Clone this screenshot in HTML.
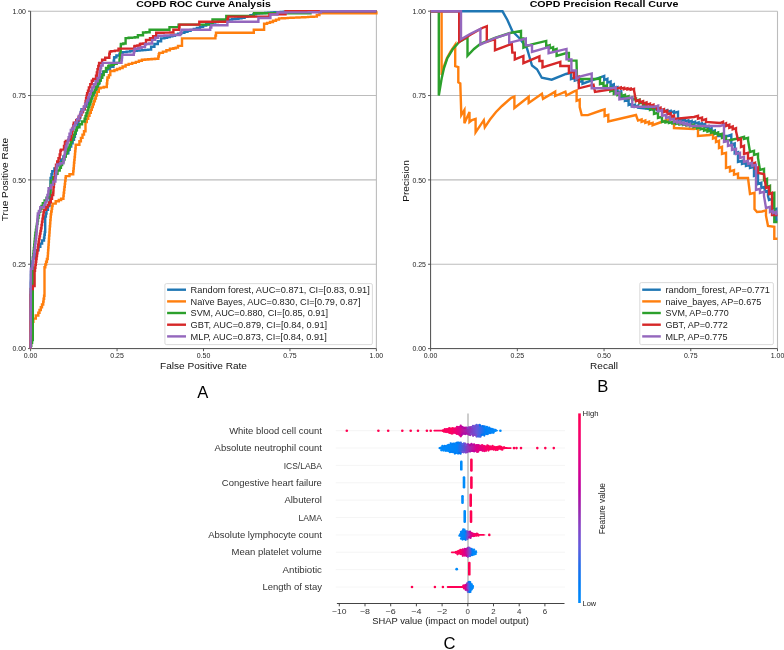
<!DOCTYPE html><html><head><meta charset="utf-8"><style>html,body{margin:0;padding:0;background:#fff;width:784px;height:650px;overflow:hidden}svg{display:block;will-change:transform}text{font-family:"Liberation Sans", sans-serif}</style></head><body>
<svg width="784" height="650" viewBox="0 0 784 650">
<rect width="784" height="650" fill="#fff"/>
<g stroke="#bcbcbc" stroke-width="1.1" fill="none"><line x1="30.60" y1="264.25" x2="376.40" y2="264.25"/><line x1="30.60" y1="179.90" x2="376.40" y2="179.90"/><line x1="30.60" y1="95.55" x2="376.40" y2="95.55"/><line x1="30.60" y1="11.20" x2="376.40" y2="11.20"/><line x1="376.40" y1="11.20" x2="376.40" y2="348.60"/></g>
<path d="M30.60 11.20 V348.60 H376.40" stroke="#4a4a4a" stroke-width="1.0" fill="none"/>
<path d="M28.00 348.60 H30.60 M30.60 348.60 V351.20 M28.00 264.25 H30.60 M117.05 348.60 V351.20 M28.00 179.90 H30.60 M203.50 348.60 V351.20 M28.00 95.55 H30.60 M289.95 348.60 V351.20 M28.00 11.20 H30.60 M376.40 348.60 V351.20" stroke="#4a4a4a" stroke-width="0.9" fill="none"/>
<text x="26.00" y="351.30" font-size="6.59" text-anchor="end" fill="#222" textLength="13.58" lengthAdjust="spacingAndGlyphs">0.00</text>
<text x="30.60" y="358.10" font-size="6.59" text-anchor="middle" fill="#222" textLength="13.58" lengthAdjust="spacingAndGlyphs">0.00</text>
<text x="26.00" y="266.95" font-size="6.59" text-anchor="end" fill="#222" textLength="13.58" lengthAdjust="spacingAndGlyphs">0.25</text>
<text x="117.05" y="358.10" font-size="6.59" text-anchor="middle" fill="#222" textLength="13.58" lengthAdjust="spacingAndGlyphs">0.25</text>
<text x="26.00" y="182.60" font-size="6.59" text-anchor="end" fill="#222" textLength="13.58" lengthAdjust="spacingAndGlyphs">0.50</text>
<text x="203.50" y="358.10" font-size="6.59" text-anchor="middle" fill="#222" textLength="13.58" lengthAdjust="spacingAndGlyphs">0.50</text>
<text x="26.00" y="98.25" font-size="6.59" text-anchor="end" fill="#222" textLength="13.58" lengthAdjust="spacingAndGlyphs">0.75</text>
<text x="289.95" y="358.10" font-size="6.59" text-anchor="middle" fill="#222" textLength="13.58" lengthAdjust="spacingAndGlyphs">0.75</text>
<text x="26.00" y="13.90" font-size="6.59" text-anchor="end" fill="#222" textLength="13.58" lengthAdjust="spacingAndGlyphs">1.00</text>
<text x="376.40" y="358.10" font-size="6.59" text-anchor="middle" fill="#222" textLength="13.58" lengthAdjust="spacingAndGlyphs">1.00</text>
<text x="203.50" y="7.30" font-size="9.46" text-anchor="middle" fill="#000" font-weight="bold" textLength="134.44" lengthAdjust="spacingAndGlyphs">COPD ROC Curve Analysis</text>
<text x="203.50" y="368.90" font-size="9.35" text-anchor="middle" fill="#111" textLength="86.90" lengthAdjust="spacingAndGlyphs">False Positive Rate</text>
<text x="8.30" y="179.60" font-size="9.35" text-anchor="middle" fill="#111" textLength="83.29" lengthAdjust="spacingAndGlyphs" transform="rotate(-90 8.3 179.6)">True Positive Rate</text>
<g fill="none" stroke-width="2.4" stroke-linejoin="miter" stroke-linecap="butt">
<polyline stroke="#1f77b4" points="30.6,348.6 30.6,292.0 30.6,289.2 30.7,289.2 30.7,286.3 30.7,286.3 30.7,283.5 30.8,283.5 30.8,280.7 30.9,280.7 30.9,277.8 30.9,277.8 30.9,275.0 31.0,275.0 31.0,271.6 31.5,271.6 31.5,268.2 31.9,268.2 31.9,264.9 32.4,264.9 32.4,261.5 32.9,261.5 32.9,257.8 34.8,257.8 34.8,254.0 36.6,254.0 36.6,250.3 38.5,250.3 38.5,246.7 40.3,246.7 40.3,243.6 42.1,243.6 42.1,240.5 44.0,240.5 44.0,237.7 44.4,237.7 44.4,234.8 44.8,234.8 44.8,232.0 45.2,232.0 45.2,219.6 45.2,216.6 45.9,216.6 45.9,213.5 46.5,213.5 46.5,209.8 48.0,209.8 48.0,206.0 49.5,206.0 49.5,203.2 49.7,203.2 49.7,200.5 49.9,200.5 49.9,197.8 50.1,197.8 50.1,195.0 50.3,195.0 50.3,191.7 50.4,191.7 50.4,188.3 50.5,188.3 50.5,184.9 50.5,184.9 50.5,181.6 50.6,181.6 50.6,177.9 51.5,177.9 51.5,174.2 52.3,174.2 52.3,171.3 54.4,171.3 54.4,168.5 56.4,168.5 56.4,165.6 58.5,165.6 58.5,162.5 61.0,162.5 61.0,159.4 63.4,159.4 63.4,156.4 65.8,156.4 65.8,153.3 68.3,153.3 68.3,149.9 69.7,149.9 69.7,146.6 71.2,146.6 71.2,143.2 72.6,143.2 72.6,139.8 74.0,139.8 74.0,136.7 74.9,136.7 74.9,133.7 75.8,133.7 75.8,130.6 76.6,130.6 76.6,127.5 77.5,127.5 77.5,123.8 78.5,123.8 78.5,120.2 79.5,120.2 79.5,117.5 80.2,117.5 80.2,114.7 80.8,114.7 80.8,112.0 81.5,112.0 81.5,109.2 82.2,109.2 84.6,109.2 84.6,106.7 86.4,106.7 86.4,104.2 88.3,104.2 88.3,101.2 90.2,101.2 90.2,98.1 92.0,98.1 92.0,95.0 93.8,95.0 93.8,92.0 95.7,92.0 95.7,89.0 97.0,89.0 97.0,86.0 98.2,86.0 98.2,83.0 99.5,83.0 99.5,80.1 100.7,80.1 100.7,77.1 102.0,77.1 102.0,74.1 103.2,74.1 103.2,71.7 106.6,71.7 106.6,69.3 110.0,69.3 110.0,66.9 113.4,66.9 113.4,63.9 113.7,63.9 113.7,60.8 114.1,60.8 114.1,57.8 114.4,57.8 114.4,57.2 116.4,57.2 116.4,55.5 119.5,55.5 119.5,53.7 122.6,53.7 122.6,52.1 126.6,52.1 126.6,51.6 130.2,51.6 130.2,51.1 133.8,51.1 133.8,50.9 136.7,50.9 136.7,50.6 139.6,50.6 139.6,50.4 142.4,50.4 142.4,50.1 145.3,50.1 145.3,49.9 148.2,49.9 148.2,49.6 151.1,49.6 151.1,46.8 154.4,46.8 154.4,44.0 157.8,44.0 157.8,41.2 161.1,41.2 161.1,38.4 164.4,38.4 164.4,37.8 167.1,37.8 167.1,37.1 169.7,37.1 169.7,36.4 172.3,36.4 172.3,35.8 175.0,35.8 175.0,34.8 178.1,34.8 178.1,33.8 181.2,33.8 181.2,32.9 184.4,32.9 184.4,31.9 187.5,31.9 187.5,30.9 190.6,30.9 190.6,29.9 193.8,29.9 193.8,29.0 196.9,29.0 196.9,28.0 200.0,28.0 200.0,26.8 203.1,26.8 203.1,25.5 206.2,25.5 206.2,24.2 209.3,24.2 209.3,23.0 212.4,23.0 212.4,22.5 215.2,22.5 215.2,22.0 217.9,22.0 217.9,21.5 220.7,21.5 220.7,21.0 223.5,21.0 223.5,20.5 226.2,20.5 226.2,20.0 229.0,20.0 229.0,19.6 232.1,19.6 232.1,19.1 235.2,19.1 235.2,18.7 238.4,18.7 238.4,18.2 241.5,18.2 241.5,17.8 244.6,17.8 244.6,16.9 247.5,16.9 247.5,16.1 250.4,16.1 250.4,15.2 253.2,15.2 253.2,14.4 256.1,14.4 256.1,13.5 259.0,13.5 259.0,13.3 262.1,13.3 262.1,13.1 265.2,13.1 265.2,12.9 268.3,12.9 268.3,12.7 271.4,12.7 271.4,12.5 274.5,12.5 274.5,12.3 277.6,12.3 277.6,12.1 280.7,12.1 280.7,11.9 283.8,11.9 283.8,11.7 286.9,11.7 286.9,11.5 290.0,11.5 290.0,11.5 293.0,11.5 293.0,11.5 296.0,11.5 296.0,11.5 298.9,11.5 298.9,11.5 301.9,11.5 301.9,11.4 304.9,11.4 304.9,11.4 307.9,11.4 307.9,11.4 310.9,11.4 310.9,11.4 313.8,11.4 313.8,11.4 316.8,11.4 316.8,11.4 319.8,11.4 319.8,11.4 322.8,11.4 322.8,11.4 325.8,11.4 325.8,11.4 328.7,11.4 328.7,11.4 331.7,11.4 331.7,11.3 334.7,11.3 334.7,11.3 337.7,11.3 337.7,11.3 340.6,11.3 340.6,11.3 343.6,11.3 343.6,11.3 346.6,11.3 346.6,11.3 349.6,11.3 349.6,11.3 352.6,11.3 352.6,11.3 355.5,11.3 355.5,11.3 358.5,11.3 358.5,11.3 361.5,11.3 361.5,11.2 364.5,11.2 364.5,11.2 367.5,11.2 367.5,11.2 370.4,11.2 370.4,11.2 373.4,11.2 373.4,11.2 376.4,11.2"/>
<polyline stroke="#ff7f0e" points="30.6,348.6 30.6,324.0 30.6,321.7 33.4,321.7 33.4,318.6 35.8,318.6 35.8,315.5 38.3,315.5 38.3,312.8 39.5,312.8 39.5,310.0 40.8,310.0 40.8,307.2 42.0,307.2 42.0,304.5 43.2,304.5 43.2,301.6 43.6,301.6 43.6,298.7 44.1,298.7 44.1,295.8 44.5,295.8 44.5,270.0 44.5,267.2 45.3,267.2 45.3,264.5 46.1,264.5 46.1,261.8 46.9,261.8 46.9,259.0 47.7,259.0 47.7,256.1 47.9,256.1 47.9,253.3 48.1,253.3 48.1,250.4 48.3,250.4 48.3,247.5 48.5,247.5 48.5,244.7 48.7,244.7 48.7,241.8 48.9,241.8 48.9,238.7 49.1,238.7 49.1,235.6 49.4,235.6 49.4,232.5 49.6,232.5 49.6,229.4 49.8,229.4 49.8,226.3 50.1,226.3 50.1,223.2 50.3,223.2 50.3,220.1 50.6,220.1 50.6,217.0 50.8,217.0 50.8,214.2 51.2,214.2 51.2,211.5 51.7,211.5 51.7,208.8 52.1,208.8 52.1,206.0 52.6,206.0 52.6,203.6 55.7,203.6 55.7,201.2 58.8,201.2 58.8,200.0 61.1,200.0 61.1,198.8 63.4,198.8 63.4,195.8 63.7,195.8 63.7,192.8 64.1,192.8 64.1,189.8 64.4,189.8 64.4,186.9 64.8,186.9 64.8,183.9 65.1,183.9 65.1,180.9 65.5,180.9 65.5,177.9 65.8,177.9 65.8,176.1 69.5,176.1 69.5,174.2 73.2,174.2 73.2,171.3 73.5,171.3 73.5,168.5 73.8,168.5 73.8,165.6 74.0,165.6 74.0,162.7 74.3,162.7 74.3,159.9 74.6,159.9 74.6,157.0 74.9,157.0 74.9,154.1 75.1,154.1 75.1,151.3 75.4,151.3 75.4,148.4 75.7,148.4 75.7,144.7 79.4,144.7 79.4,141.3 80.9,141.3 80.9,137.9 82.5,137.9 82.5,134.6 84.0,134.6 84.0,131.2 85.5,131.2 85.5,125.0 85.5,122.0 86.8,122.0 86.8,118.9 88.2,118.9 88.2,115.8 89.5,115.8 89.5,112.8 90.8,112.8 90.8,109.9 91.8,109.9 91.8,107.1 92.8,107.1 92.8,104.2 93.8,104.2 93.8,101.3 94.9,101.3 94.9,98.5 95.9,98.5 95.9,95.6 96.9,95.6 96.9,91.9 98.8,91.9 98.8,88.2 100.6,88.2 100.6,87.6 103.7,87.6 103.7,87.0 106.8,87.0 106.8,83.5 107.2,83.5 107.2,80.0 107.5,80.0 107.5,77.5 108.9,77.5 108.9,75.1 110.3,75.1 110.3,71.0 114.4,71.0 114.4,70.0 117.1,70.0 117.1,69.0 119.9,69.0 119.9,68.0 122.6,68.0 122.6,66.5 125.6,66.5 125.6,64.9 128.7,64.9 128.7,63.9 132.2,63.9 132.2,62.9 135.8,62.9 135.8,61.9 138.9,61.9 138.9,60.8 141.9,60.8 141.9,59.8 145.0,59.8 145.0,59.5 148.3,59.5 148.3,59.3 151.7,59.3 151.7,59.0 155.0,59.0 155.0,58.8 158.3,58.8 158.3,56.5 158.8,56.5 158.8,54.2 159.3,54.2 159.3,52.9 162.9,52.9 162.9,51.6 166.4,51.6 166.4,50.2 169.9,50.2 169.9,48.8 173.4,48.8 173.4,48.2 175.7,48.2 175.7,47.6 178.0,47.6 178.0,45.9 182.0,45.9 182.0,38.4 215.4,38.4 215.4,35.6 216.0,35.6 216.0,32.7 219.4,32.7 253.8,32.7 253.8,29.8 255.5,29.8 264.1,29.8 264.1,24.6 264.1,23.7 267.1,23.7 267.1,22.9 270.0,22.9 270.0,22.0 273.0,22.0 273.0,20.8 276.0,20.8 276.0,19.6 279.0,19.6 279.0,18.4 282.0,18.4 282.0,18.2 284.9,18.2 284.9,18.1 287.8,18.1 287.8,17.9 290.7,17.9 290.7,17.8 293.6,17.8 293.6,17.6 296.5,17.6 296.5,17.5 299.4,17.5 299.4,17.4 302.3,17.4 302.3,17.2 305.2,17.2 305.2,17.1 308.1,17.1 308.1,16.9 311.0,16.9 311.0,16.8 313.9,16.8 313.9,16.6 316.8,16.6 316.8,15.0 319.4,15.0 319.4,13.4 322.0,13.4 376.4,13.4 376.4,11.2"/>
<polyline stroke="#2ca02c" points="30.6,348.6 30.6,345.7 31.3,345.7 31.3,342.9 32.1,342.9 32.1,340.0 32.8,340.0 32.8,299.5 32.8,296.5 32.8,296.5 32.8,293.5 32.8,293.5 32.8,290.4 32.8,290.4 32.8,287.4 32.9,287.4 32.9,284.4 32.9,284.4 32.9,281.4 32.9,281.4 32.9,278.3 32.9,278.3 32.9,275.3 32.9,275.3 32.9,272.3 32.9,272.3 32.9,269.3 33.0,269.3 33.0,266.2 33.0,266.2 33.0,263.2 33.0,263.2 33.0,260.2 33.0,260.2 33.0,257.1 33.3,257.1 33.3,254.0 33.6,254.0 33.6,251.0 33.9,251.0 33.9,247.9 34.2,247.9 34.2,244.8 34.5,244.8 34.5,241.8 34.8,241.8 34.8,238.7 35.1,238.7 35.1,235.6 35.4,235.6 35.4,232.6 35.9,232.6 35.9,229.6 36.4,229.6 36.4,226.6 36.9,226.6 36.9,223.7 37.5,223.7 37.5,220.7 38.0,220.7 38.0,217.7 38.5,217.7 38.5,214.7 39.0,214.7 39.0,211.8 40.3,211.8 40.3,208.9 41.5,208.9 41.5,206.0 42.8,206.0 42.8,203.2 44.6,203.2 44.6,200.5 46.5,200.5 46.5,197.8 48.4,197.8 48.4,195.0 50.2,195.0 50.2,192.2 50.4,192.2 50.4,189.5 50.6,189.5 50.6,186.8 50.8,186.8 50.8,184.0 51.0,184.0 51.0,180.6 53.2,180.6 53.2,177.2 55.4,177.2 55.4,173.9 57.5,173.9 57.5,170.5 59.7,170.5 59.7,167.8 60.9,167.8 60.9,165.0 62.1,165.0 62.1,162.2 63.4,162.2 63.4,159.5 64.6,159.5 64.6,156.5 65.8,156.5 65.8,153.6 67.1,153.6 67.1,150.6 68.3,150.6 68.3,147.7 69.6,147.7 69.6,144.7 70.8,144.7 70.8,141.5 72.1,141.5 72.1,138.2 73.5,138.2 73.5,135.0 74.8,135.0 74.8,132.5 75.8,132.5 75.8,130.0 76.9,130.0 76.9,127.2 79.5,127.2 79.5,124.3 82.0,124.3 82.0,121.5 84.6,121.5 84.6,118.7 85.5,118.7 85.5,116.0 86.4,116.0 86.4,113.2 87.4,113.2 87.4,110.4 88.3,110.4 88.3,107.4 89.3,107.4 89.3,104.5 90.3,104.5 90.3,101.5 91.2,101.5 91.2,98.6 92.2,98.6 92.2,95.6 93.2,95.6 93.2,92.6 94.7,92.6 94.7,89.7 96.2,89.7 96.2,86.7 97.6,86.7 97.6,83.8 99.1,83.8 99.1,80.8 100.6,80.8 100.6,77.9 102.2,77.9 102.2,75.1 103.7,75.1 103.7,71.5 106.0,71.5 106.0,68.0 108.3,68.0 108.3,65.9 109.3,65.9 109.3,65.4 111.6,65.4 111.6,64.9 113.9,64.9 113.9,63.9 116.7,63.9 116.7,62.9 119.5,62.9 119.5,59.8 119.8,59.8 119.8,56.8 120.2,56.8 120.2,53.7 120.5,53.7 120.5,50.6 120.7,50.6 120.7,47.6 120.8,47.6 120.8,44.5 121.0,44.5 121.0,44.0 123.3,44.0 123.3,43.5 125.6,43.5 125.6,38.4 125.6,38.1 128.7,38.1 128.7,37.8 131.8,37.8 131.8,37.6 134.8,37.6 134.8,37.3 137.9,37.3 137.9,35.3 143.0,35.3 143.0,32.8 143.0,32.5 146.3,32.5 146.3,32.2 149.6,32.2 149.6,29.7 150.1,29.7 169.5,29.7 169.5,27.1 178.6,27.1 178.6,24.6 179.2,24.6 212.5,24.6 212.5,19.5 226.3,19.5 226.3,16.0 226.8,16.0 254.0,16.0 254.0,13.3 255.0,13.3 310.5,13.3 310.5,11.2 376.4,11.2"/>
<polyline stroke="#d62728" points="30.6,348.6 30.6,298.0 30.6,295.0 30.8,295.0 30.8,292.0 30.9,292.0 30.9,289.0 32.8,289.0 32.8,286.0 34.6,286.0 34.6,273.7 34.6,270.8 35.0,270.8 35.0,267.8 35.4,267.8 35.4,264.9 35.8,264.9 35.8,261.9 36.2,261.9 36.2,259.0 36.6,259.0 36.6,256.1 37.0,256.1 37.0,253.3 37.4,253.3 37.4,250.4 37.8,250.4 37.8,247.5 38.2,247.5 38.2,244.7 38.6,244.7 38.6,241.8 39.0,241.8 39.0,239.1 39.5,239.1 39.5,236.4 40.0,236.4 40.0,233.6 40.5,233.6 40.5,230.9 41.0,230.9 41.0,228.2 41.5,228.2 41.5,225.0 42.0,225.0 42.0,221.8 42.5,221.8 42.5,218.6 43.0,218.6 43.0,215.4 43.5,215.4 43.5,212.2 44.0,212.2 44.0,209.8 45.9,209.8 45.9,207.3 47.7,207.3 47.7,204.9 49.2,204.9 49.2,202.4 50.8,202.4 50.8,198.7 52.0,198.7 52.0,195.0 53.2,195.0 53.2,192.6 53.4,192.6 53.4,190.2 53.5,190.2 53.5,187.0 53.9,187.0 53.9,183.9 54.2,183.9 54.2,180.7 54.6,180.7 54.6,177.5 54.9,177.5 54.9,174.3 55.3,174.3 55.3,171.2 55.6,171.2 55.6,168.0 56.0,168.0 56.0,164.7 57.2,164.7 57.2,161.5 58.5,161.5 58.5,158.2 59.7,158.2 59.7,154.5 60.4,154.5 60.4,150.8 61.0,150.8 61.0,149.6 64.0,149.6 64.0,145.9 64.9,145.9 64.9,142.2 65.8,142.2 65.8,141.0 68.3,141.0 68.3,139.8 70.8,139.8 70.8,136.8 71.4,136.8 71.4,133.9 72.0,133.9 72.0,130.9 72.6,130.9 72.6,128.0 73.2,128.0 73.2,125.0 73.8,125.0 73.8,122.6 76.2,122.6 76.2,120.2 78.5,120.2 78.5,117.5 80.0,117.5 80.0,114.7 81.5,114.7 81.5,112.0 83.1,112.0 83.1,109.2 84.6,109.2 84.6,106.5 85.1,106.5 85.1,103.8 85.6,103.8 85.6,101.0 86.1,101.0 86.1,98.3 86.6,98.3 86.6,95.6 87.1,95.6 87.1,93.2 88.0,93.2 88.0,90.7 88.9,90.7 88.9,87.4 90.3,87.4 90.3,84.1 91.8,84.1 91.8,80.8 93.2,80.8 93.2,79.0 96.0,79.0 96.0,75.8 96.8,75.8 96.8,72.5 97.5,72.5 97.5,69.2 98.3,69.2 98.3,66.0 99.1,66.0 99.1,62.9 102.1,62.9 102.1,59.8 105.2,59.8 105.2,57.8 109.3,57.8 109.3,53.7 109.8,53.7 109.8,51.6 111.3,51.6 111.3,51.1 114.9,51.1 114.9,50.6 118.5,50.6 118.5,48.6 119.0,48.6 134.3,48.6 134.3,46.5 134.8,46.5 134.8,46.0 137.4,46.0 137.4,45.5 139.9,45.5 139.9,44.0 140.9,44.0 140.9,43.8 143.4,43.8 143.4,43.5 146.0,43.5 146.0,40.0 150.0,40.0 150.0,38.1 153.1,38.1 153.1,36.3 156.2,36.3 156.2,32.8 160.3,32.8 160.3,32.7 163.6,32.7 163.6,32.6 166.9,32.6 166.9,32.6 170.1,32.6 170.1,32.5 173.4,32.5 173.4,29.8 179.2,29.8 179.2,27.2 179.5,27.2 179.5,24.6 179.8,24.6 199.3,24.6 199.3,21.8 199.9,21.8 227.4,21.8 227.4,19.2 228.0,19.2 228.0,16.6 228.6,16.6 269.5,16.6 269.5,14.3 285.5,14.3 285.5,11.2 376.4,11.2"/>
<polyline stroke="#9467bd" points="30.6,348.6 30.6,345.6 30.6,345.6 30.6,342.6 30.6,342.6 30.6,339.5 30.6,339.5 30.6,336.5 30.6,336.5 30.6,333.5 30.7,333.5 30.7,330.5 30.7,330.5 30.7,327.4 30.7,327.4 30.7,324.4 30.7,324.4 30.7,321.4 30.7,321.4 30.7,318.4 30.7,318.4 30.7,315.3 30.7,315.3 30.7,312.3 30.7,312.3 30.7,309.3 30.8,309.3 30.8,306.3 30.8,306.3 30.8,303.3 30.8,303.3 30.8,300.2 30.8,300.2 30.8,297.2 30.8,297.2 30.8,294.2 30.8,294.2 30.8,291.2 30.8,291.2 30.8,288.1 30.8,288.1 30.8,285.1 30.8,285.1 30.8,282.1 30.9,282.1 30.9,279.1 30.9,279.1 30.9,276.0 30.9,276.0 30.9,273.0 30.9,273.0 30.9,270.0 30.9,270.0 30.9,268.8 32.3,268.8 32.3,265.4 32.8,265.4 32.8,262.1 33.2,262.1 33.2,258.7 33.7,258.7 33.7,255.3 34.2,255.3 34.2,252.3 34.5,252.3 34.5,249.3 34.9,249.3 34.9,246.3 35.2,246.3 35.2,243.4 35.6,243.4 35.6,240.4 35.9,240.4 35.9,237.4 36.3,237.4 36.3,234.4 36.6,234.4 36.6,231.3 36.8,231.3 36.8,228.3 37.0,228.3 37.0,225.2 37.2,225.2 37.2,222.1 37.4,222.1 37.4,219.1 37.6,219.1 37.6,216.0 37.8,216.0 37.8,213.5 39.0,213.5 39.0,211.0 40.3,211.0 40.3,207.3 44.0,207.3 44.0,204.9 45.2,204.9 45.2,202.4 46.5,202.4 46.5,198.7 47.4,198.7 47.4,195.0 48.3,195.0 48.3,191.5 48.6,191.5 48.6,188.2 50.9,188.2 50.9,184.9 53.1,184.9 53.1,181.6 55.4,181.6 55.4,178.4 55.8,178.4 55.8,175.2 56.1,175.2 56.1,172.0 56.5,172.0 56.5,168.8 56.8,168.8 56.8,165.6 57.2,165.6 57.2,164.4 60.3,164.4 60.3,163.2 63.4,163.2 63.4,160.5 63.9,160.5 63.9,157.8 64.4,157.8 64.4,155.0 64.8,155.0 64.8,152.3 65.3,152.3 65.3,149.6 65.8,149.6 65.8,146.5 66.7,146.5 66.7,143.4 67.7,143.4 67.7,140.4 68.6,140.4 68.6,137.3 69.5,137.3 69.5,133.7 70.8,133.7 70.8,130.0 72.0,130.0 72.0,128.8 73.5,128.8 73.5,125.6 75.2,125.6 75.2,122.4 77.0,122.4 77.0,119.2 78.7,119.2 78.7,116.0 80.5,116.0 80.5,112.8 82.2,112.8 82.2,109.7 83.7,109.7 83.7,106.7 85.2,106.7 85.2,103.6 86.8,103.6 86.8,100.5 88.3,100.5 88.3,97.2 89.5,97.2 89.5,94.0 90.8,94.0 90.8,90.7 92.0,90.7 92.0,87.5 93.8,87.5 93.8,84.3 95.7,84.3 95.7,81.2 97.6,81.2 97.6,78.0 99.4,78.0 99.4,74.7 100.0,74.7 100.0,71.3 100.5,71.3 100.5,68.0 101.1,68.0 101.1,65.5 102.7,65.5 102.7,62.9 104.2,62.9 121.5,62.9 121.5,60.2 121.9,60.2 121.9,57.4 122.2,57.4 122.2,54.7 122.6,54.7 133.8,54.7 133.8,52.2 134.3,52.2 134.3,49.6 134.8,49.6 134.8,48.7 138.2,48.7 138.2,47.9 141.6,47.9 141.6,47.0 145.0,47.0 145.0,44.5 146.0,44.5 146.0,44.0 149.1,44.0 149.1,43.5 152.1,43.5 152.1,39.9 155.2,39.9 155.2,37.8 158.2,37.8 158.2,35.8 161.3,35.8 161.3,35.7 164.5,35.7 164.5,35.5 167.6,35.5 167.6,35.4 170.8,35.4 170.8,35.3 174.0,35.3 174.0,35.1 177.1,35.1 177.1,35.0 180.3,35.0 180.3,32.7 181.5,32.7 181.5,29.8 184.4,29.8 210.2,29.8 210.2,27.5 211.3,27.5 211.3,25.2 212.5,25.2 227.4,25.2 227.4,21.8 228.0,21.8 258.4,21.8 258.4,18.0 259.6,18.0 270.4,18.0 270.4,14.5 277.5,14.5 277.5,12.5 277.5,12.5 280.6,12.5 280.6,12.5 283.7,12.5 283.7,12.5 286.8,12.5 286.8,12.4 289.9,12.4 289.9,12.4 293.0,12.4 293.0,12.4 296.1,12.4 296.1,12.4 299.2,12.4 299.2,12.4 302.4,12.4 302.4,12.4 305.5,12.4 305.5,12.4 308.6,12.4 308.6,12.3 311.7,12.3 311.7,12.3 314.8,12.3 314.8,12.3 317.9,12.3 317.9,12.3 321.0,12.3 321.0,11.2 376.4,11.2"/>
</g>
<rect x="164.90" y="283.60" width="207.50" height="61.00" rx="1.5" fill="#fff" fill-opacity="0.8" stroke="#d6d6d6" stroke-width="0.9"/>
<line x1="167.10" y1="289.70" x2="186.00" y2="289.70" stroke="#1f77b4" stroke-width="2.4"/>
<text x="190.60" y="292.80" font-size="8.75" text-anchor="start" fill="#222" textLength="179.22" lengthAdjust="spacingAndGlyphs">Random forest, AUC=0.871, CI=[0.83, 0.91]</text>
<line x1="167.10" y1="301.40" x2="186.00" y2="301.40" stroke="#ff7f0e" stroke-width="2.4"/>
<text x="190.60" y="304.50" font-size="8.75" text-anchor="start" fill="#222" textLength="169.91" lengthAdjust="spacingAndGlyphs">Naïve Bayes, AUC=0.830, CI=[0.79, 0.87]</text>
<line x1="167.10" y1="313.00" x2="186.00" y2="313.00" stroke="#2ca02c" stroke-width="2.4"/>
<text x="190.60" y="316.10" font-size="8.75" text-anchor="start" fill="#222" textLength="137.44" lengthAdjust="spacingAndGlyphs">SVM, AUC=0.880, CI=[0.85, 0.91]</text>
<line x1="167.10" y1="324.70" x2="186.00" y2="324.70" stroke="#d62728" stroke-width="2.4"/>
<text x="190.60" y="327.80" font-size="8.75" text-anchor="start" fill="#222" textLength="136.55" lengthAdjust="spacingAndGlyphs">GBT, AUC=0.879, CI=[0.84, 0.91]</text>
<line x1="167.10" y1="336.40" x2="186.00" y2="336.40" stroke="#9467bd" stroke-width="2.4"/>
<text x="190.60" y="339.50" font-size="8.75" text-anchor="start" fill="#222" textLength="136.16" lengthAdjust="spacingAndGlyphs">MLP, AUC=0.873, CI=[0.84, 0.91]</text>
<g stroke="#bcbcbc" stroke-width="1.1" fill="none"><line x1="430.60" y1="264.25" x2="777.50" y2="264.25"/><line x1="430.60" y1="179.90" x2="777.50" y2="179.90"/><line x1="430.60" y1="95.55" x2="777.50" y2="95.55"/><line x1="430.60" y1="11.20" x2="777.50" y2="11.20"/><line x1="777.50" y1="11.20" x2="777.50" y2="348.60"/></g>
<path d="M430.60 11.20 V348.60 H777.50" stroke="#4a4a4a" stroke-width="1.0" fill="none"/>
<path d="M428.00 348.60 H430.60 M430.60 348.60 V351.20 M428.00 264.25 H430.60 M517.33 348.60 V351.20 M428.00 179.90 H430.60 M604.05 348.60 V351.20 M428.00 95.55 H430.60 M690.77 348.60 V351.20 M428.00 11.20 H430.60 M777.50 348.60 V351.20" stroke="#4a4a4a" stroke-width="0.9" fill="none"/>
<text x="426.00" y="351.30" font-size="6.59" text-anchor="end" fill="#222" textLength="13.58" lengthAdjust="spacingAndGlyphs">0.00</text>
<text x="430.60" y="358.10" font-size="6.59" text-anchor="middle" fill="#222" textLength="13.58" lengthAdjust="spacingAndGlyphs">0.00</text>
<text x="426.00" y="266.95" font-size="6.59" text-anchor="end" fill="#222" textLength="13.58" lengthAdjust="spacingAndGlyphs">0.25</text>
<text x="517.33" y="358.10" font-size="6.59" text-anchor="middle" fill="#222" textLength="13.58" lengthAdjust="spacingAndGlyphs">0.25</text>
<text x="426.00" y="182.60" font-size="6.59" text-anchor="end" fill="#222" textLength="13.58" lengthAdjust="spacingAndGlyphs">0.50</text>
<text x="604.05" y="358.10" font-size="6.59" text-anchor="middle" fill="#222" textLength="13.58" lengthAdjust="spacingAndGlyphs">0.50</text>
<text x="426.00" y="98.25" font-size="6.59" text-anchor="end" fill="#222" textLength="13.58" lengthAdjust="spacingAndGlyphs">0.75</text>
<text x="690.77" y="358.10" font-size="6.59" text-anchor="middle" fill="#222" textLength="13.58" lengthAdjust="spacingAndGlyphs">0.75</text>
<text x="426.00" y="13.90" font-size="6.59" text-anchor="end" fill="#222" textLength="13.58" lengthAdjust="spacingAndGlyphs">1.00</text>
<text x="777.50" y="358.10" font-size="6.59" text-anchor="middle" fill="#222" textLength="13.58" lengthAdjust="spacingAndGlyphs">1.00</text>
<text x="604.05" y="7.30" font-size="9.46" text-anchor="middle" fill="#000" font-weight="bold" textLength="148.68" lengthAdjust="spacingAndGlyphs">COPD Precision Recall Curve</text>
<text x="604.05" y="368.90" font-size="9.35" text-anchor="middle" fill="#111" textLength="27.89" lengthAdjust="spacingAndGlyphs">Recall</text>
<text x="408.90" y="181.00" font-size="9.35" text-anchor="middle" fill="#111" textLength="41.72" lengthAdjust="spacingAndGlyphs" transform="rotate(-90 408.9 181)">Precision</text>
<g fill="none" stroke-width="2.4" stroke-linejoin="miter">
<polyline stroke="#1f77b4" points="430.6,11.3 502.5,11.3 507.4,20.0 512.3,31.0 519.7,38.5 527.0,48.3 529.5,57.0 532.0,65.5 537.0,69.2 541.8,77.8 551.7,79.7 566.0,74.0 571.0,72.8 571.0,79.0 574.8,77.8 574.8,80.6 578.7,79.4 578.7,82.1 582.5,80.9 582.5,83.7 601.0,77.2 604.2,76.0 604.2,80.0 607.4,78.8 607.4,82.8 610.6,81.5 610.6,85.5 613.8,84.3 613.8,88.3 617.5,87.1 617.5,92.5 621.2,91.3 621.2,96.7 624.9,95.5 624.9,100.8 628.6,99.6 628.6,105.0 631.7,103.8 631.7,105.9 634.9,104.7 634.9,106.8 638.0,105.6 638.0,107.7 650.0,109.0 653.4,107.9 653.4,109.6 656.9,108.5 656.9,110.1 660.3,109.1 660.3,110.7 663.7,109.7 663.7,111.3 667.1,110.2 667.1,111.9 670.6,110.8 670.6,112.4 674.0,111.4 674.0,113.0 678.0,111.8 678.0,120.0 681.4,118.8 681.4,120.7 684.9,119.5 684.9,121.4 688.3,120.3 688.3,122.1 691.7,121.0 691.7,122.9 695.1,121.7 695.1,123.6 698.6,122.4 698.6,124.3 702.0,123.1 702.0,125.0 705.2,123.8 705.2,127.2 708.4,126.0 708.4,129.4 711.6,128.2 711.6,131.6 714.8,130.4 714.8,133.8 718.0,132.6 718.0,136.0 728.0,136.0 731.3,134.8 731.3,144.7 734.7,143.5 734.7,153.3 738.0,152.1 738.0,162.0 742.0,160.8 742.0,164.0 746.0,162.8 746.0,166.0 750.0,164.8 750.0,168.0 754.0,166.8 754.0,176.0 758.0,174.8 758.0,184.0 761.3,182.8 761.3,188.0 764.7,186.8 764.7,192.0 768.0,190.8 768.0,196.0 769.0,200.0 772.6,198.8 772.6,210.0 776.2,208.8 776.2,220.0 777.5,220.0"/>
<polyline stroke="#ff7f0e" points="430.6,11.3 441.6,11.3 441.6,75.0 444.0,66.0 447.0,58.0 451.0,51.0 455.2,44.7 455.2,66.1 458.3,67.1 458.3,82.4 460.3,83.5 461.3,115.1 464.4,110.0 464.4,123.3 469.5,112.0 469.5,122.0 472.0,120.0 475.6,118.8 475.6,132.4 483.8,120.2 484.8,127.3 490.0,119.5 496.0,112.0 502.0,106.0 511.3,97.8 514.4,96.6 514.4,108.0 528.7,96.7 528.7,102.9 541.9,93.7 543.0,98.8 555.2,91.6 555.2,96.0 565.4,91.6 566.4,95.5 573.6,91.6 576.6,90.4 576.6,100.8 579.7,99.6 579.7,107.0 581.7,115.1 587.9,115.1 601.0,110.5 604.6,109.3 604.6,116.0 608.3,114.8 608.3,121.5 636.0,115.0 638.0,120.6 641.6,119.4 641.6,121.8 645.3,120.5 645.3,122.9 649.0,121.7 649.0,124.0 652.6,122.8 652.6,125.2 660.0,122.5 670.0,119.0 674.0,117.8 674.0,128.0 694.0,129.0 698.0,127.8 698.0,136.0 710.0,135.0 713.0,133.8 713.0,138.5 716.0,137.3 716.0,142.0 719.0,140.8 719.0,148.0 722.0,146.8 722.0,154.0 726.0,152.8 726.0,168.0 730.0,166.8 730.0,171.3 734.0,170.1 734.0,174.7 738.0,173.5 738.0,178.0 748.0,178.0 750.0,194.0 754.5,192.8 754.5,209.0 757.0,212.0 762.0,211.5 766.0,210.3 766.0,215.7 768.0,226.0 774.3,226.8 774.3,238.8 777.5,238.8"/>
<polyline stroke="#2ca02c" points="430.6,11.3 438.8,11.3 438.8,95.5 441.6,78.8 444.0,68.0 447.2,58.5 452.7,49.3 459.2,41.9 467.5,37.3 467.5,55.8 474.0,49.0 480.4,43.8 495.0,38.0 510.0,33.0 521.0,31.0 521.0,38.5 523.4,38.5 523.4,47.7 530.8,44.6 546.2,40.9 546.2,46.5 549.7,45.3 549.7,48.3 553.1,47.1 553.1,50.2 556.6,49.0 556.6,52.0 556.6,56.0 566.5,53.0 568.9,53.0 568.9,60.6 576.5,60.6 577.0,79.0 581.5,79.0 597.0,79.0 600.0,77.8 600.0,84.0 603.5,82.8 603.5,86.5 606.9,85.2 606.9,88.9 610.3,87.7 610.3,91.3 613.8,90.1 613.8,93.8 617.5,92.6 617.5,95.0 621.2,93.8 621.2,96.2 624.9,95.0 624.9,97.4 628.6,96.2 628.6,98.6 632.3,97.4 632.3,99.8 636.0,98.6 636.0,101.0 639.5,99.8 639.5,103.2 643.0,102.0 643.0,105.5 646.5,104.3 646.5,107.8 650.0,106.5 650.0,110.0 654.0,108.8 654.0,114.0 658.0,112.8 658.0,118.0 662.0,116.8 662.0,122.0 665.5,121.0 665.5,122.5 669.0,121.5 669.0,123.0 672.5,122.0 672.5,123.5 676.0,122.5 676.0,124.0 679.5,123.0 679.5,124.5 683.0,123.5 683.0,125.0 686.5,124.0 686.5,125.5 690.0,124.5 690.0,126.0 693.5,124.8 693.5,127.1 697.0,125.9 697.0,128.2 700.5,127.0 700.5,129.4 704.0,128.2 704.0,130.5 707.5,129.3 707.5,131.6 711.0,130.4 711.0,132.8 714.5,131.6 714.5,133.9 718.0,132.7 718.0,135.0 722.0,133.8 722.0,138.0 726.0,136.8 726.0,141.0 740.0,138.0 744.0,136.8 744.0,139.0 748.0,137.8 748.0,140.0 750.0,152.0 754.0,150.8 754.0,155.0 758.0,153.8 758.0,158.0 760.0,170.0 764.0,168.8 764.0,180.0 767.0,178.8 767.0,187.0 770.0,185.8 770.0,194.0 774.3,192.8 774.3,204.6 774.3,222.0 777.5,222.0"/>
<polyline stroke="#d62728" points="430.6,11.3 459.2,11.3 459.2,41.9 470.0,35.0 482.2,28.0 486.8,26.2 486.8,41.9 495.0,39.2 495.0,50.2 511.8,43.8 512.3,52.6 514.8,52.6 514.8,59.4 523.4,56.0 523.4,63.1 539.4,56.3 539.4,61.0 542.5,61.0 542.5,67.4 560.3,61.8 560.3,66.0 568.9,66.0 568.9,72.9 573.8,71.7 573.8,77.8 578.8,76.6 578.8,88.3 593.5,84.6 595.0,92.0 617.5,88.3 620.8,87.4 620.8,88.7 624.1,87.8 624.1,89.1 627.4,88.2 627.4,89.4 630.7,88.5 630.7,89.8 634.0,88.9 634.0,90.2 636.0,101.2 639.5,100.0 639.5,102.4 643.0,101.2 643.0,103.6 646.5,102.4 646.5,104.8 650.0,103.6 650.0,106.0 653.5,104.8 653.5,107.5 657.0,106.3 657.0,109.0 660.5,107.8 660.5,110.5 664.0,109.3 664.0,112.0 667.3,110.8 667.3,114.3 670.7,113.1 670.7,116.7 674.0,115.5 674.0,119.0 694.0,117.0 698.0,115.8 698.0,118.7 702.0,117.5 702.0,120.3 706.0,119.1 706.0,122.0 720.0,123.0 723.0,121.8 723.0,124.5 726.0,123.3 726.0,126.0 729.3,124.8 729.3,127.7 732.7,126.5 732.7,129.3 736.0,128.1 736.0,131.0 738.0,140.0 741.0,138.8 741.0,147.0 744.0,145.8 744.0,154.0 748.0,152.8 748.0,159.0 752.0,157.8 752.0,164.0 755.0,162.8 755.0,168.5 758.0,167.3 758.0,173.0 764.0,174.0 766.0,188.0 769.0,186.8 769.0,194.0 772.0,192.8 772.0,200.0 772.0,215.0 777.5,215.0"/>
<polyline stroke="#9467bd" points="430.6,11.3 461.0,11.3 461.0,39.2 470.0,34.0 480.4,29.0 480.4,44.7 495.0,38.0 509.2,33.5 509.2,42.8 525.8,38.5 525.8,45.2 532.0,45.2 532.0,52.0 548.6,47.0 548.6,53.2 566.5,48.9 566.5,59.4 571.4,59.4 571.4,70.5 576.3,70.5 576.3,79.0 580.6,76.3 591.7,73.5 591.7,88.3 612.0,88.3 615.7,87.1 615.7,93.8 619.4,92.6 619.4,99.4 632.3,97.5 632.3,106.8 654.5,106.8 658.2,105.6 658.2,111.4 662.0,110.2 662.0,116.0 666.0,114.8 666.0,118.0 670.0,116.8 670.0,120.0 674.0,118.8 674.0,122.0 677.2,120.8 677.2,122.8 680.4,121.6 680.4,123.6 683.6,122.4 683.6,124.4 686.8,123.2 686.8,125.2 690.0,124.0 690.0,126.0 720.0,126.0 724.0,124.8 724.0,142.0 728.0,140.8 728.0,146.0 732.0,144.8 732.0,150.0 736.0,148.8 736.0,154.0 740.0,152.8 740.0,158.0 744.0,156.8 744.0,162.0 748.0,160.8 748.0,164.0 752.0,162.8 752.0,166.0 756.0,164.8 756.0,190.0 760.0,188.8 760.0,193.0 764.0,191.8 764.0,196.0 766.0,208.0 770.0,206.8 770.0,212.0 773.0,210.8 773.0,213.0 776.0,211.8 776.0,214.0 777.5,214.0"/>
</g>
<rect x="639.80" y="282.60" width="133.60" height="62.00" rx="1.5" fill="#fff" fill-opacity="0.8" stroke="#d6d6d6" stroke-width="0.9"/>
<line x1="642.20" y1="289.70" x2="660.80" y2="289.70" stroke="#1f77b4" stroke-width="2.4"/>
<text x="665.50" y="292.80" font-size="8.75" text-anchor="start" fill="#222" textLength="104.36" lengthAdjust="spacingAndGlyphs">random_forest, AP=0.771</text>
<line x1="642.20" y1="301.40" x2="660.80" y2="301.40" stroke="#ff7f0e" stroke-width="2.4"/>
<text x="665.50" y="304.50" font-size="8.75" text-anchor="start" fill="#222" textLength="95.83" lengthAdjust="spacingAndGlyphs">naive_bayes, AP=0.675</text>
<line x1="642.20" y1="313.00" x2="660.80" y2="313.00" stroke="#2ca02c" stroke-width="2.4"/>
<text x="665.50" y="316.10" font-size="8.75" text-anchor="start" fill="#222" textLength="63.22" lengthAdjust="spacingAndGlyphs">SVM, AP=0.770</text>
<line x1="642.20" y1="324.70" x2="660.80" y2="324.70" stroke="#d62728" stroke-width="2.4"/>
<text x="665.50" y="327.80" font-size="8.75" text-anchor="start" fill="#222" textLength="62.33" lengthAdjust="spacingAndGlyphs">GBT, AP=0.772</text>
<line x1="642.20" y1="336.40" x2="660.80" y2="336.40" stroke="#9467bd" stroke-width="2.4"/>
<text x="665.50" y="339.50" font-size="8.75" text-anchor="start" fill="#222" textLength="61.94" lengthAdjust="spacingAndGlyphs">MLP, AP=0.775</text>
<text x="202.8" y="397.7" font-size="16.6" text-anchor="middle" fill="#000">A</text>
<text x="602.8" y="391.5" font-size="16.6" text-anchor="middle" fill="#000">B</text>
<text x="449.6" y="648.8" font-size="16.6" text-anchor="middle" fill="#000">C</text>
<defs><linearGradient id="cb" x1="0" y1="1" x2="0" y2="0"><stop offset="0.00" stop-color="#008bfb"/><stop offset="0.10" stop-color="#007cf5"/><stop offset="0.20" stop-color="#246cea"/><stop offset="0.30" stop-color="#635adb"/><stop offset="0.40" stop-color="#8443c6"/><stop offset="0.50" stop-color="#9b24ad"/><stop offset="0.60" stop-color="#bb00a0"/><stop offset="0.70" stop-color="#d5008f"/><stop offset="0.80" stop-color="#e9007c"/><stop offset="0.90" stop-color="#f90067"/><stop offset="1.00" stop-color="#ff0051"/></linearGradient><linearGradient id="g0" gradientUnits="userSpaceOnUse" x1="434.0" y1="0" x2="498.0" y2="0"><stop offset="0.000" stop-color="#ff0058"/><stop offset="0.280" stop-color="#fb0063"/><stop offset="0.375" stop-color="#e60080"/><stop offset="0.516" stop-color="#9b24ad"/><stop offset="0.670" stop-color="#635adb"/><stop offset="0.800" stop-color="#007cf5"/><stop offset="0.950" stop-color="#008bfb"/><stop offset="1.000" stop-color="#008bfb"/></linearGradient><linearGradient id="g1" gradientUnits="userSpaceOnUse" x1="439.0" y1="0" x2="511.0" y2="0"><stop offset="0.000" stop-color="#008bfb"/><stop offset="0.250" stop-color="#0082f8"/><stop offset="0.400" stop-color="#9135ba"/><stop offset="0.520" stop-color="#d9008c"/><stop offset="0.710" stop-color="#fe005c"/><stop offset="1.000" stop-color="#ff0051"/></linearGradient><linearGradient id="g6" gradientUnits="userSpaceOnUse" x1="459.0" y1="0" x2="485.0" y2="0"><stop offset="0.000" stop-color="#008bfb"/><stop offset="0.220" stop-color="#0084f9"/><stop offset="0.350" stop-color="#8443c6"/><stop offset="0.500" stop-color="#e00086"/><stop offset="0.700" stop-color="#fe005c"/><stop offset="1.000" stop-color="#ff0051"/></linearGradient><linearGradient id="g7" gradientUnits="userSpaceOnUse" x1="451.0" y1="0" x2="477.0" y2="0"><stop offset="0.000" stop-color="#ff0051"/><stop offset="0.350" stop-color="#fe005c"/><stop offset="0.550" stop-color="#d5008f"/><stop offset="0.700" stop-color="#8443c6"/><stop offset="0.820" stop-color="#007ff7"/><stop offset="1.000" stop-color="#008bfb"/></linearGradient><linearGradient id="g9" gradientUnits="userSpaceOnUse" x1="447.0" y1="0" x2="473.5" y2="0"><stop offset="0.000" stop-color="#ff0051"/><stop offset="0.600" stop-color="#fe005c"/><stop offset="0.700" stop-color="#d5008f"/><stop offset="0.800" stop-color="#635adb"/><stop offset="0.880" stop-color="#0084f9"/><stop offset="1.000" stop-color="#008bfb"/></linearGradient></defs>
<line x1="335.8" y1="430.70" x2="565" y2="430.70" stroke="#f4f4f4" stroke-width="0.9"/><line x1="335.8" y1="448.07" x2="565" y2="448.07" stroke="#f4f4f4" stroke-width="0.9"/><line x1="335.8" y1="465.44" x2="565" y2="465.44" stroke="#f4f4f4" stroke-width="0.9"/><line x1="335.8" y1="482.81" x2="565" y2="482.81" stroke="#f4f4f4" stroke-width="0.9"/><line x1="335.8" y1="500.18" x2="565" y2="500.18" stroke="#f4f4f4" stroke-width="0.9"/><line x1="335.8" y1="517.55" x2="565" y2="517.55" stroke="#f4f4f4" stroke-width="0.9"/><line x1="335.8" y1="534.92" x2="565" y2="534.92" stroke="#f4f4f4" stroke-width="0.9"/><line x1="335.8" y1="552.29" x2="565" y2="552.29" stroke="#f4f4f4" stroke-width="0.9"/><line x1="335.8" y1="569.66" x2="565" y2="569.66" stroke="#f4f4f4" stroke-width="0.9"/><line x1="335.8" y1="587.03" x2="565" y2="587.03" stroke="#f4f4f4" stroke-width="0.9"/><line x1="468" y1="413.4" x2="468" y2="603" stroke="#bdbdbd" stroke-width="1.5"/><polygon fill="url(#g0)" points="433.2,430.7 434.0,429.8 435.5,429.8 437.0,429.8 438.5,429.8 440.0,429.8 441.5,429.8 443.0,429.6 444.5,429.4 446.0,429.3 447.5,429.1 449.0,428.8 450.5,428.6 452.0,428.3 453.5,428.1 455.0,427.7 456.5,427.2 458.0,426.6 459.5,425.9 461.0,425.7 462.5,426.6 464.0,426.8 465.5,426.9 467.0,427.1 468.5,426.9 470.0,426.6 471.5,426.4 473.0,425.9 474.5,425.5 476.0,425.2 477.5,425.0 479.0,425.1 480.5,425.4 482.0,425.7 483.5,426.1 485.0,426.5 486.5,427.0 488.0,427.6 489.5,428.1 491.0,428.6 492.5,428.9 494.0,429.3 495.5,429.6 497.0,429.8 498.3,430.7 497.0,431.6 495.5,431.8 494.0,432.1 492.5,432.5 491.0,432.8 489.5,433.3 488.0,433.8 486.5,434.4 485.0,434.9 483.5,435.3 482.0,435.7 480.5,436.0 479.0,436.3 477.5,436.4 476.0,436.2 474.5,435.9 473.0,435.4 471.5,435.0 470.0,434.8 468.5,434.5 467.0,434.3 465.5,434.5 464.0,434.6 462.5,434.8 461.0,435.7 459.5,435.5 458.0,434.8 456.5,434.2 455.0,433.7 453.5,433.3 452.0,433.1 450.5,432.8 449.0,432.6 447.5,432.3 446.0,432.1 444.5,431.9 443.0,431.8 441.5,431.6 440.0,431.6 438.5,431.6 437.0,431.6 435.5,431.6 434.0,431.6"/><circle cx="443.0" cy="430.7" r="1.15" fill="#f80069"/><circle cx="443.0" cy="430.8" r="1.15" fill="#ff0055"/><circle cx="444.2" cy="430.3" r="1.15" fill="#ff0052"/><circle cx="444.0" cy="431.7" r="1.15" fill="#ff0051"/><circle cx="444.8" cy="429.1" r="1.15" fill="#f80068"/><circle cx="444.8" cy="431.0" r="1.15" fill="#ff0056"/><circle cx="446.1" cy="429.4" r="1.15" fill="#fb0063"/><circle cx="445.7" cy="431.9" r="1.15" fill="#f7006b"/><circle cx="447.0" cy="429.1" r="1.15" fill="#fa0065"/><circle cx="447.0" cy="432.1" r="1.15" fill="#fa0065"/><circle cx="448.3" cy="428.9" r="1.15" fill="#fd005f"/><circle cx="448.8" cy="432.2" r="1.15" fill="#ff005b"/><circle cx="449.3" cy="428.2" r="1.15" fill="#fb0064"/><circle cx="449.3" cy="432.8" r="1.15" fill="#fc0062"/><circle cx="450.8" cy="428.6" r="1.15" fill="#fd0060"/><circle cx="450.4" cy="433.1" r="1.15" fill="#fe005d"/><circle cx="451.8" cy="428.6" r="1.15" fill="#ff005a"/><circle cx="451.8" cy="433.5" r="1.15" fill="#fd005f"/><circle cx="452.9" cy="428.2" r="1.15" fill="#ff005a"/><circle cx="452.6" cy="433.4" r="1.15" fill="#f7006a"/><circle cx="454.1" cy="429.1" r="1.15" fill="#ee0076"/><circle cx="453.8" cy="432.5" r="1.15" fill="#f90067"/><circle cx="455.1" cy="428.4" r="1.15" fill="#f70069"/><circle cx="455.1" cy="432.7" r="1.15" fill="#f20072"/><circle cx="457.0" cy="426.9" r="1.15" fill="#e7007f"/><circle cx="456.6" cy="433.8" r="1.15" fill="#f30070"/><circle cx="458.0" cy="427.5" r="1.15" fill="#de0088"/><circle cx="458.2" cy="434.1" r="1.15" fill="#e6007f"/><circle cx="459.3" cy="427.2" r="1.15" fill="#da008b"/><circle cx="459.7" cy="435.2" r="1.15" fill="#e20084"/><circle cx="460.7" cy="425.6" r="1.15" fill="#c80099"/><circle cx="460.8" cy="436.3" r="1.15" fill="#df0087"/><circle cx="462.0" cy="426.8" r="1.15" fill="#bd009f"/><circle cx="461.7" cy="435.0" r="1.15" fill="#bc009f"/><circle cx="463.0" cy="427.6" r="1.15" fill="#b10fa4"/><circle cx="462.8" cy="433.5" r="1.15" fill="#b30ca4"/><circle cx="464.5" cy="427.9" r="1.15" fill="#bb00a0"/><circle cx="464.1" cy="433.7" r="1.15" fill="#b10fa5"/><circle cx="465.7" cy="427.9" r="1.15" fill="#be009e"/><circle cx="465.4" cy="434.1" r="1.15" fill="#9b23ad"/><circle cx="466.2" cy="427.6" r="1.15" fill="#af13a6"/><circle cx="466.0" cy="433.5" r="1.15" fill="#b30ca4"/><circle cx="467.7" cy="427.9" r="1.15" fill="#8c3bbf"/><circle cx="468.0" cy="434.1" r="1.15" fill="#a61ca9"/><circle cx="468.9" cy="427.5" r="1.15" fill="#893ec2"/><circle cx="469.1" cy="434.8" r="1.15" fill="#9a27af"/><circle cx="470.4" cy="427.4" r="1.15" fill="#9a26af"/><circle cx="470.4" cy="435.1" r="1.15" fill="#962db4"/><circle cx="471.6" cy="427.1" r="1.15" fill="#8245c8"/><circle cx="471.2" cy="433.9" r="1.15" fill="#7f48ca"/><circle cx="473.0" cy="426.0" r="1.15" fill="#7e48cb"/><circle cx="473.1" cy="435.8" r="1.15" fill="#8f38bc"/><circle cx="473.6" cy="426.5" r="1.15" fill="#6d54d6"/><circle cx="473.9" cy="434.8" r="1.15" fill="#8740c4"/><circle cx="475.4" cy="425.7" r="1.15" fill="#7b4bcd"/><circle cx="475.4" cy="435.0" r="1.15" fill="#7f48ca"/><circle cx="476.7" cy="425.0" r="1.15" fill="#5261e1"/><circle cx="476.6" cy="436.5" r="1.15" fill="#7151d3"/><circle cx="478.3" cy="425.5" r="1.15" fill="#6a56d7"/><circle cx="478.1" cy="436.5" r="1.15" fill="#3769e8"/><circle cx="479.6" cy="424.8" r="1.15" fill="#226ceb"/><circle cx="479.7" cy="436.5" r="1.15" fill="#5061e2"/><circle cx="480.2" cy="425.6" r="1.15" fill="#0074f0"/><circle cx="480.6" cy="436.5" r="1.15" fill="#3469e8"/><circle cx="482.3" cy="426.1" r="1.15" fill="#336ae8"/><circle cx="481.8" cy="434.9" r="1.15" fill="#0074f0"/><circle cx="482.9" cy="426.2" r="1.15" fill="#0076f1"/><circle cx="483.4" cy="434.4" r="1.15" fill="#0077f2"/><circle cx="484.7" cy="426.5" r="1.15" fill="#007bf4"/><circle cx="484.3" cy="435.5" r="1.15" fill="#0079f3"/><circle cx="485.5" cy="427.9" r="1.15" fill="#0083f8"/><circle cx="485.8" cy="433.5" r="1.15" fill="#0083f8"/><circle cx="486.9" cy="427.0" r="1.15" fill="#0082f8"/><circle cx="486.9" cy="434.0" r="1.15" fill="#007af4"/><circle cx="487.6" cy="427.7" r="1.15" fill="#0084f9"/><circle cx="487.8" cy="434.1" r="1.15" fill="#007ff7"/><circle cx="489.2" cy="427.6" r="1.15" fill="#0081f7"/><circle cx="489.2" cy="433.1" r="1.15" fill="#007ff7"/><circle cx="490.4" cy="428.7" r="1.15" fill="#007df5"/><circle cx="490.8" cy="433.0" r="1.15" fill="#007df5"/><circle cx="491.9" cy="428.9" r="1.15" fill="#0080f7"/><circle cx="491.2" cy="431.8" r="1.15" fill="#0087fa"/><circle cx="492.1" cy="429.7" r="1.15" fill="#0084f9"/><circle cx="492.8" cy="432.7" r="1.15" fill="#008bfb"/><circle cx="493.6" cy="429.3" r="1.15" fill="#0083f8"/><circle cx="493.7" cy="432.6" r="1.15" fill="#0082f8"/><circle cx="495.5" cy="429.9" r="1.15" fill="#0085f9"/><circle cx="495.0" cy="430.9" r="1.15" fill="#008afb"/><circle cx="346.8" cy="430.7" r="1.30" fill="#ff0051"/><circle cx="378.4" cy="430.7" r="1.30" fill="#ff0051"/><circle cx="388.2" cy="430.7" r="1.30" fill="#ff0051"/><circle cx="402.3" cy="430.7" r="1.30" fill="#ff0051"/><circle cx="410.7" cy="430.7" r="1.30" fill="#ff0051"/><circle cx="418.0" cy="430.7" r="1.30" fill="#ff0051"/><circle cx="426.9" cy="430.7" r="1.30" fill="#ff0051"/><circle cx="430.7" cy="430.7" r="1.30" fill="#ff0051"/><circle cx="500.4" cy="430.7" r="1.30" fill="#008bfb"/><polygon fill="url(#g1)" points="438.2,448.1 439.0,447.2 440.5,446.7 442.0,446.2 443.5,445.7 445.0,445.3 446.5,444.9 448.0,444.5 449.5,444.1 451.0,443.8 452.5,443.4 454.0,443.0 455.5,442.7 457.0,442.4 458.5,442.2 460.0,442.6 461.5,443.0 463.0,443.4 464.5,443.7 466.0,444.1 467.5,444.3 469.0,444.2 470.5,444.2 472.0,444.2 473.5,444.3 475.0,444.4 476.5,444.6 478.0,444.8 479.5,445.1 481.0,445.3 482.5,445.4 484.0,445.6 485.5,445.7 487.0,445.8 488.5,445.9 490.0,446.1 491.5,446.2 493.0,446.3 494.5,446.4 496.0,446.5 497.5,446.6 499.0,446.7 500.5,446.8 502.0,446.9 503.5,446.9 505.0,447.0 506.5,447.1 508.0,447.2 509.5,447.2 511.0,447.2 511.8,448.1 511.0,449.0 509.5,449.0 508.0,449.0 506.5,449.0 505.0,449.1 503.5,449.2 502.0,449.3 500.5,449.3 499.0,449.4 497.5,449.5 496.0,449.7 494.5,449.8 493.0,449.9 491.5,450.0 490.0,450.1 488.5,450.2 487.0,450.3 485.5,450.4 484.0,450.6 482.5,450.7 481.0,450.9 479.5,451.1 478.0,451.3 476.5,451.6 475.0,451.7 473.5,451.9 472.0,452.0 470.5,451.9 469.0,451.9 467.5,451.9 466.0,452.1 464.5,452.4 463.0,452.8 461.5,453.1 460.0,453.5 458.5,453.9 457.0,453.7 455.5,453.5 454.0,453.1 452.5,452.7 451.0,452.4 449.5,452.0 448.0,451.6 446.5,451.2 445.0,450.8 443.5,450.4 442.0,449.9 440.5,449.4 439.0,449.0"/><circle cx="440.4" cy="447.9" r="1.15" fill="#008bfb"/><circle cx="440.3" cy="448.2" r="1.15" fill="#0088fa"/><circle cx="442.1" cy="447.4" r="1.15" fill="#0085f9"/><circle cx="441.3" cy="450.3" r="1.15" fill="#008bfb"/><circle cx="442.4" cy="445.8" r="1.15" fill="#008bfb"/><circle cx="442.9" cy="449.7" r="1.15" fill="#0084f9"/><circle cx="444.0" cy="446.6" r="1.15" fill="#0087fa"/><circle cx="443.3" cy="450.5" r="1.15" fill="#008bfb"/><circle cx="444.7" cy="445.8" r="1.15" fill="#0080f7"/><circle cx="445.3" cy="450.8" r="1.15" fill="#008bfb"/><circle cx="446.8" cy="446.0" r="1.15" fill="#0088fa"/><circle cx="446.6" cy="450.6" r="1.15" fill="#0080f7"/><circle cx="447.7" cy="445.6" r="1.15" fill="#008bfb"/><circle cx="447.4" cy="450.5" r="1.15" fill="#008bfb"/><circle cx="448.5" cy="445.0" r="1.15" fill="#0082f8"/><circle cx="448.7" cy="451.1" r="1.15" fill="#008bfb"/><circle cx="449.6" cy="445.2" r="1.15" fill="#008bfb"/><circle cx="449.9" cy="452.2" r="1.15" fill="#008bfb"/><circle cx="450.7" cy="443.3" r="1.15" fill="#0080f7"/><circle cx="451.1" cy="451.9" r="1.15" fill="#007ff7"/><circle cx="452.4" cy="443.8" r="1.15" fill="#007cf5"/><circle cx="452.5" cy="452.1" r="1.15" fill="#0081f7"/><circle cx="453.5" cy="443.6" r="1.15" fill="#008bfb"/><circle cx="453.2" cy="452.0" r="1.15" fill="#0080f7"/><circle cx="454.3" cy="443.8" r="1.15" fill="#007df6"/><circle cx="454.8" cy="453.6" r="1.15" fill="#0087fa"/><circle cx="455.7" cy="443.3" r="1.15" fill="#0089fa"/><circle cx="455.5" cy="453.1" r="1.15" fill="#007bf4"/><circle cx="457.1" cy="442.6" r="1.15" fill="#0078f3"/><circle cx="457.2" cy="453.1" r="1.15" fill="#0089fa"/><circle cx="458.5" cy="442.6" r="1.15" fill="#0080f7"/><circle cx="458.1" cy="453.6" r="1.15" fill="#007ff6"/><circle cx="459.1" cy="443.0" r="1.15" fill="#007ef6"/><circle cx="459.2" cy="453.0" r="1.15" fill="#0073f0"/><circle cx="460.8" cy="442.7" r="1.15" fill="#3769e8"/><circle cx="460.6" cy="453.7" r="1.15" fill="#0071ee"/><circle cx="462.5" cy="444.2" r="1.15" fill="#5560e0"/><circle cx="462.6" cy="451.8" r="1.15" fill="#625adb"/><circle cx="463.9" cy="443.4" r="1.15" fill="#4f62e2"/><circle cx="463.6" cy="452.3" r="1.15" fill="#7251d3"/><circle cx="465.2" cy="443.6" r="1.15" fill="#8443c6"/><circle cx="465.3" cy="452.3" r="1.15" fill="#6b55d7"/><circle cx="465.9" cy="445.0" r="1.15" fill="#7151d3"/><circle cx="466.1" cy="452.4" r="1.15" fill="#8543c6"/><circle cx="467.4" cy="444.3" r="1.15" fill="#7d49cc"/><circle cx="467.6" cy="452.1" r="1.15" fill="#8d3abe"/><circle cx="468.3" cy="444.3" r="1.15" fill="#9d23ad"/><circle cx="468.3" cy="451.1" r="1.15" fill="#9036bb"/><circle cx="470.2" cy="445.0" r="1.15" fill="#b40aa3"/><circle cx="470.0" cy="451.6" r="1.15" fill="#a11fab"/><circle cx="471.5" cy="444.0" r="1.15" fill="#b509a3"/><circle cx="471.1" cy="450.9" r="1.15" fill="#a71ba9"/><circle cx="472.9" cy="444.9" r="1.15" fill="#ac16a7"/><circle cx="472.7" cy="450.8" r="1.15" fill="#c3009b"/><circle cx="474.1" cy="444.3" r="1.15" fill="#c90097"/><circle cx="474.2" cy="451.4" r="1.15" fill="#bc009f"/><circle cx="476.1" cy="445.3" r="1.15" fill="#e00086"/><circle cx="475.7" cy="450.5" r="1.15" fill="#dd0088"/><circle cx="477.1" cy="445.1" r="1.15" fill="#d5008f"/><circle cx="477.1" cy="451.9" r="1.15" fill="#df0087"/><circle cx="478.7" cy="445.2" r="1.15" fill="#d7008e"/><circle cx="478.3" cy="451.5" r="1.15" fill="#e9007c"/><circle cx="480.0" cy="445.9" r="1.15" fill="#e50081"/><circle cx="479.3" cy="449.9" r="1.15" fill="#e50081"/><circle cx="480.7" cy="445.9" r="1.15" fill="#e50081"/><circle cx="481.2" cy="450.2" r="1.15" fill="#dd0089"/><circle cx="482.1" cy="445.1" r="1.15" fill="#f5006d"/><circle cx="482.7" cy="450.8" r="1.15" fill="#e8007d"/><circle cx="483.9" cy="446.0" r="1.15" fill="#f20072"/><circle cx="483.5" cy="450.1" r="1.15" fill="#ec007a"/><circle cx="484.7" cy="446.6" r="1.15" fill="#ee0076"/><circle cx="484.3" cy="451.0" r="1.15" fill="#ee0077"/><circle cx="485.6" cy="446.6" r="1.15" fill="#fc0061"/><circle cx="486.0" cy="450.8" r="1.15" fill="#f80069"/><circle cx="487.3" cy="445.4" r="1.15" fill="#fc0061"/><circle cx="487.4" cy="449.2" r="1.15" fill="#f80068"/><circle cx="488.5" cy="446.0" r="1.15" fill="#f5006d"/><circle cx="488.4" cy="450.6" r="1.15" fill="#fb0062"/><circle cx="490.0" cy="446.7" r="1.15" fill="#ff0051"/><circle cx="489.9" cy="449.4" r="1.15" fill="#fb0063"/><circle cx="490.8" cy="446.6" r="1.15" fill="#fa0065"/><circle cx="491.4" cy="449.2" r="1.15" fill="#ff005c"/><circle cx="492.6" cy="445.8" r="1.15" fill="#fe005d"/><circle cx="491.9" cy="449.0" r="1.15" fill="#f90066"/><circle cx="493.1" cy="447.3" r="1.15" fill="#fc0061"/><circle cx="493.6" cy="449.7" r="1.15" fill="#ff0054"/><circle cx="494.5" cy="446.8" r="1.15" fill="#fe005d"/><circle cx="494.1" cy="449.2" r="1.15" fill="#fd0060"/><circle cx="496.1" cy="447.5" r="1.15" fill="#ff0056"/><circle cx="495.8" cy="450.0" r="1.15" fill="#fd005f"/><circle cx="497.1" cy="447.1" r="1.15" fill="#ff0051"/><circle cx="497.4" cy="449.9" r="1.15" fill="#fa0065"/><circle cx="498.4" cy="446.6" r="1.15" fill="#ff0059"/><circle cx="497.7" cy="449.3" r="1.15" fill="#ff005b"/><circle cx="499.9" cy="446.5" r="1.15" fill="#ff0051"/><circle cx="499.3" cy="448.6" r="1.15" fill="#fc0060"/><circle cx="501.2" cy="446.8" r="1.15" fill="#ff0051"/><circle cx="501.1" cy="449.3" r="1.15" fill="#ff0058"/><circle cx="502.4" cy="448.0" r="1.15" fill="#fe005d"/><circle cx="502.3" cy="449.7" r="1.15" fill="#ff005b"/><circle cx="503.3" cy="447.7" r="1.15" fill="#ff0051"/><circle cx="502.8" cy="448.2" r="1.15" fill="#ff0055"/><circle cx="504.2" cy="447.5" r="1.15" fill="#ff0052"/><circle cx="504.3" cy="448.0" r="1.15" fill="#ff0056"/><circle cx="514.0" cy="448.1" r="1.30" fill="#ff0051"/><circle cx="516.5" cy="448.1" r="1.30" fill="#ff0051"/><circle cx="521.0" cy="448.1" r="1.30" fill="#ff0051"/><circle cx="537.3" cy="448.1" r="1.30" fill="#ff0051"/><circle cx="545.3" cy="448.1" r="1.30" fill="#ff0051"/><circle cx="553.8" cy="448.1" r="1.30" fill="#ff0051"/><rect x="460.00" y="460.60" width="2.60" height="10.00" rx="1.2" fill="#008bfb"/><rect x="470.10" y="458.60" width="2.60" height="13.10" rx="1.2" fill="#ff0051"/><rect x="462.70" y="476.30" width="2.60" height="12.20" rx="1.2" fill="#008bfb"/><rect x="470.10" y="476.30" width="2.60" height="12.70" rx="1.2" fill="#ff0051"/><rect x="461.20" y="495.00" width="2.60" height="9.00" rx="1.2" fill="#008bfb"/><rect x="469.40" y="493.50" width="2.60" height="13.50" rx="1.2" fill="#ff0051"/><rect x="463.40" y="509.90" width="2.60" height="13.10" rx="1.2" fill="#008bfb"/><rect x="469.70" y="510.20" width="2.60" height="12.80" rx="1.2" fill="#ff0051"/><polygon fill="url(#g6)" points="459.0,534.9 459.8,533.5 461.3,531.4 462.8,530.1 464.3,530.0 465.8,530.4 467.3,531.0 468.8,531.6 470.3,532.2 471.8,532.8 473.3,533.1 474.8,533.3 476.3,533.6 477.8,533.8 479.3,534.0 480.8,534.0 482.3,534.0 483.8,534.0 485.8,534.9 483.8,535.8 482.3,535.8 480.8,535.8 479.3,535.8 477.8,536.0 476.3,536.3 474.8,536.5 473.3,536.7 471.8,537.0 470.3,537.6 468.8,538.2 467.3,538.8 465.8,539.4 464.3,539.8 462.8,539.7 461.3,538.4 459.8,536.3"/><circle cx="460.2" cy="534.3" r="1.15" fill="#0086fa"/><circle cx="459.4" cy="535.7" r="1.15" fill="#008afb"/><circle cx="461.0" cy="532.0" r="1.15" fill="#0085f9"/><circle cx="461.0" cy="538.7" r="1.15" fill="#008bfb"/><circle cx="462.5" cy="531.0" r="1.15" fill="#008bfb"/><circle cx="462.5" cy="539.5" r="1.15" fill="#0087fa"/><circle cx="463.2" cy="529.4" r="1.15" fill="#0080f7"/><circle cx="463.1" cy="539.1" r="1.15" fill="#0081f7"/><circle cx="464.5" cy="529.6" r="1.15" fill="#0089fa"/><circle cx="464.4" cy="539.0" r="1.15" fill="#0081f8"/><circle cx="465.9" cy="531.5" r="1.15" fill="#0074f0"/><circle cx="465.7" cy="539.8" r="1.15" fill="#0078f2"/><circle cx="467.3" cy="531.4" r="1.15" fill="#6e54d5"/><circle cx="467.4" cy="539.0" r="1.15" fill="#7052d4"/><circle cx="468.4" cy="532.2" r="1.15" fill="#8c3bbf"/><circle cx="468.2" cy="537.3" r="1.15" fill="#8047c9"/><circle cx="469.0" cy="532.4" r="1.15" fill="#9037bb"/><circle cx="469.1" cy="537.3" r="1.15" fill="#ae13a6"/><circle cx="470.0" cy="531.7" r="1.15" fill="#b40ca3"/><circle cx="470.5" cy="537.9" r="1.15" fill="#b606a2"/><circle cx="471.1" cy="533.0" r="1.15" fill="#db008a"/><circle cx="471.1" cy="536.4" r="1.15" fill="#da008b"/><circle cx="472.3" cy="533.4" r="1.15" fill="#e7007f"/><circle cx="471.7" cy="535.8" r="1.15" fill="#d5008f"/><circle cx="473.8" cy="533.9" r="1.15" fill="#f3006f"/><circle cx="473.5" cy="536.1" r="1.15" fill="#f4006e"/><circle cx="475.1" cy="534.1" r="1.15" fill="#f10073"/><circle cx="474.6" cy="535.8" r="1.15" fill="#f80068"/><circle cx="476.9" cy="533.7" r="1.15" fill="#f4006e"/><circle cx="476.5" cy="535.5" r="1.15" fill="#ff0056"/><circle cx="477.9" cy="534.4" r="1.15" fill="#fe005d"/><circle cx="478.4" cy="535.7" r="1.15" fill="#fb0063"/><circle cx="489.3" cy="534.9" r="1.30" fill="#ff0051"/><polygon fill="url(#g7)" points="450.7,552.3 451.5,551.4 453.0,551.4 454.5,551.4 456.0,551.1 457.5,550.8 459.0,550.4 460.5,549.9 462.0,549.5 463.5,549.0 465.0,548.4 466.5,547.9 468.0,547.3 469.5,547.9 471.0,548.5 472.5,549.2 474.0,549.9 475.5,550.7 477.6,552.3 475.5,553.8 474.0,554.7 472.5,555.4 471.0,556.1 469.5,556.7 468.0,557.3 466.5,556.7 465.0,556.1 463.5,555.6 462.0,555.1 460.5,554.7 459.0,554.2 457.5,553.8 456.0,553.4 454.5,553.2 453.0,553.2 451.5,553.2"/><circle cx="456.1" cy="552.0" r="1.15" fill="#ff0051"/><circle cx="456.0" cy="552.8" r="1.15" fill="#fa0064"/><circle cx="458.0" cy="551.3" r="1.15" fill="#ff0051"/><circle cx="457.5" cy="554.3" r="1.15" fill="#fa0064"/><circle cx="458.8" cy="550.8" r="1.15" fill="#fe005c"/><circle cx="458.5" cy="553.3" r="1.15" fill="#ff0057"/><circle cx="460.3" cy="550.0" r="1.15" fill="#ff0058"/><circle cx="460.3" cy="553.6" r="1.15" fill="#fc0062"/><circle cx="461.5" cy="550.2" r="1.15" fill="#f30070"/><circle cx="461.1" cy="554.2" r="1.15" fill="#f20071"/><circle cx="462.7" cy="549.4" r="1.15" fill="#eb007a"/><circle cx="462.8" cy="555.8" r="1.15" fill="#e7007e"/><circle cx="464.7" cy="548.8" r="1.15" fill="#d5008f"/><circle cx="464.5" cy="555.5" r="1.15" fill="#e8007e"/><circle cx="465.6" cy="549.2" r="1.15" fill="#bf009d"/><circle cx="466.2" cy="555.6" r="1.15" fill="#ce0094"/><circle cx="467.6" cy="548.1" r="1.15" fill="#a71aa9"/><circle cx="467.6" cy="556.3" r="1.15" fill="#ba00a1"/><circle cx="468.4" cy="547.6" r="1.15" fill="#8d3abe"/><circle cx="468.0" cy="556.6" r="1.15" fill="#8d3bbf"/><circle cx="469.5" cy="548.0" r="1.15" fill="#7350d2"/><circle cx="469.3" cy="555.6" r="1.15" fill="#8443c6"/><circle cx="470.2" cy="548.9" r="1.15" fill="#6658d9"/><circle cx="470.1" cy="556.1" r="1.15" fill="#3b68e7"/><circle cx="471.7" cy="549.0" r="1.15" fill="#007cf5"/><circle cx="471.8" cy="555.0" r="1.15" fill="#0076f1"/><circle cx="473.1" cy="549.9" r="1.15" fill="#0084f9"/><circle cx="472.6" cy="555.1" r="1.15" fill="#0082f8"/><circle cx="474.1" cy="549.6" r="1.15" fill="#0089fa"/><circle cx="474.0" cy="554.6" r="1.15" fill="#008bfb"/><circle cx="476.0" cy="551.3" r="1.15" fill="#0089fa"/><circle cx="475.7" cy="554.0" r="1.15" fill="#008bfb"/><circle cx="456.7" cy="569.2" r="1.40" fill="#008bfb"/><rect x="468.00" y="561.80" width="2.60" height="13.80" rx="1.2" fill="#ff0051"/><polygon fill="url(#g9)" points="446.6,587.0 447.4,586.1 448.9,586.1 450.4,586.1 451.9,586.1 453.4,586.1 454.9,586.1 456.4,586.1 457.9,586.1 459.4,586.1 460.9,586.1 462.4,586.0 463.9,585.8 465.4,584.8 466.9,583.4 468.4,581.9 469.9,581.7 471.4,583.0 472.9,585.5 474.0,587.0 472.9,588.5 471.4,591.1 469.9,592.4 468.4,592.1 466.9,590.6 465.4,589.2 463.9,588.3 462.4,588.0 460.9,587.9 459.4,587.9 457.9,587.9 456.4,587.9 454.9,587.9 453.4,587.9 451.9,587.9 450.4,587.9 448.9,587.9 447.4,587.9"/><circle cx="463.3" cy="585.6" r="1.15" fill="#f00074"/><circle cx="464.0" cy="588.4" r="1.15" fill="#f6006b"/><circle cx="464.4" cy="585.5" r="1.15" fill="#f10073"/><circle cx="464.8" cy="588.2" r="1.15" fill="#e10085"/><circle cx="465.9" cy="585.0" r="1.15" fill="#cf0093"/><circle cx="465.7" cy="589.8" r="1.15" fill="#bb00a0"/><circle cx="467.1" cy="583.5" r="1.15" fill="#8840c3"/><circle cx="467.3" cy="590.3" r="1.15" fill="#9d22ad"/><circle cx="468.3" cy="582.5" r="1.15" fill="#5161e1"/><circle cx="467.8" cy="591.8" r="1.15" fill="#6e54d5"/><circle cx="469.2" cy="582.0" r="1.15" fill="#0074f0"/><circle cx="469.3" cy="592.1" r="1.15" fill="#006fed"/><circle cx="470.2" cy="582.2" r="1.15" fill="#0082f8"/><circle cx="470.4" cy="591.9" r="1.15" fill="#0080f7"/><circle cx="471.8" cy="584.3" r="1.15" fill="#0088fa"/><circle cx="471.7" cy="589.4" r="1.15" fill="#0089fa"/><circle cx="473.0" cy="586.2" r="1.15" fill="#008bfb"/><circle cx="472.7" cy="588.1" r="1.15" fill="#0086f9"/><circle cx="412.0" cy="587.0" r="1.30" fill="#ff0051"/><circle cx="434.9" cy="587.0" r="1.30" fill="#ff0051"/><circle cx="442.9" cy="587.0" r="1.30" fill="#ff0051"/>
<text x="321.90" y="433.80" font-size="8.96" text-anchor="end" fill="#333" textLength="92.75" lengthAdjust="spacingAndGlyphs">White blood cell count</text>
<text x="321.90" y="451.17" font-size="8.96" text-anchor="end" fill="#333" textLength="107.30" lengthAdjust="spacingAndGlyphs">Absolute neutrophil count</text>
<text x="321.90" y="468.54" font-size="8.96" text-anchor="end" fill="#333" textLength="38.17" lengthAdjust="spacingAndGlyphs">ICS/LABA</text>
<text x="321.90" y="485.91" font-size="8.96" text-anchor="end" fill="#333" textLength="100.03" lengthAdjust="spacingAndGlyphs">Congestive heart failure</text>
<text x="321.90" y="503.28" font-size="8.96" text-anchor="end" fill="#333" textLength="37.49" lengthAdjust="spacingAndGlyphs">Albuterol</text>
<text x="321.90" y="520.65" font-size="8.96" text-anchor="end" fill="#333" textLength="23.33" lengthAdjust="spacingAndGlyphs">LAMA</text>
<text x="321.90" y="538.02" font-size="8.96" text-anchor="end" fill="#333" textLength="113.72" lengthAdjust="spacingAndGlyphs">Absolute lymphocyte count</text>
<text x="321.90" y="555.39" font-size="8.96" text-anchor="end" fill="#333" textLength="90.33" lengthAdjust="spacingAndGlyphs">Mean platelet volume</text>
<text x="321.90" y="572.76" font-size="8.96" text-anchor="end" fill="#333" textLength="39.28" lengthAdjust="spacingAndGlyphs">Antibiotic</text>
<text x="321.90" y="590.13" font-size="8.96" text-anchor="end" fill="#333" textLength="59.48" lengthAdjust="spacingAndGlyphs">Length of stay</text>
<line x1="336.9" y1="603.5" x2="564.5" y2="603.5" stroke="#444" stroke-width="1.0"/>
<text x="339.30" y="613.60" font-size="7.45" text-anchor="middle" fill="#333" textLength="14.56" lengthAdjust="spacingAndGlyphs">−10</text>
<text x="365.00" y="613.60" font-size="7.45" text-anchor="middle" fill="#333" textLength="10.17" lengthAdjust="spacingAndGlyphs">−8</text>
<text x="390.70" y="613.60" font-size="7.45" text-anchor="middle" fill="#333" textLength="10.17" lengthAdjust="spacingAndGlyphs">−6</text>
<text x="416.40" y="613.60" font-size="7.45" text-anchor="middle" fill="#333" textLength="10.17" lengthAdjust="spacingAndGlyphs">−4</text>
<text x="442.10" y="613.60" font-size="7.45" text-anchor="middle" fill="#333" textLength="10.17" lengthAdjust="spacingAndGlyphs">−2</text>
<text x="467.80" y="613.60" font-size="7.45" text-anchor="middle" fill="#333" textLength="4.39" lengthAdjust="spacingAndGlyphs">0</text>
<text x="493.50" y="613.60" font-size="7.45" text-anchor="middle" fill="#333" textLength="4.39" lengthAdjust="spacingAndGlyphs">2</text>
<text x="519.20" y="613.60" font-size="7.45" text-anchor="middle" fill="#333" textLength="4.39" lengthAdjust="spacingAndGlyphs">4</text>
<text x="544.90" y="613.60" font-size="7.45" text-anchor="middle" fill="#333" textLength="4.39" lengthAdjust="spacingAndGlyphs">6</text>
<path d="M339.30 603.5 V606.3 M365.00 603.5 V606.3 M390.70 603.5 V606.3 M416.40 603.5 V606.3 M442.10 603.5 V606.3 M467.80 603.5 V606.3 M493.50 603.5 V606.3 M519.20 603.5 V606.3 M544.90 603.5 V606.3" stroke="#333" stroke-width="0.9"/>
<text x="450.50" y="623.70" font-size="8.96" text-anchor="middle" fill="#222" textLength="156.65" lengthAdjust="spacingAndGlyphs">SHAP value (impact on model output)</text>
<rect x="578.2" y="413.4" width="2.6" height="189.6" fill="url(#cb)"/>
<text x="582.60" y="416.30" font-size="7.45" text-anchor="start" fill="#222" textLength="15.86" lengthAdjust="spacingAndGlyphs">High</text>
<text x="582.60" y="606.20" font-size="7.45" text-anchor="start" fill="#222" textLength="13.59" lengthAdjust="spacingAndGlyphs">Low</text>
<text x="605.3" y="508.6" font-size="8.4" text-anchor="middle" fill="#222" transform="rotate(-90 605.3 508.6)">Feature value</text>
</svg></body></html>
